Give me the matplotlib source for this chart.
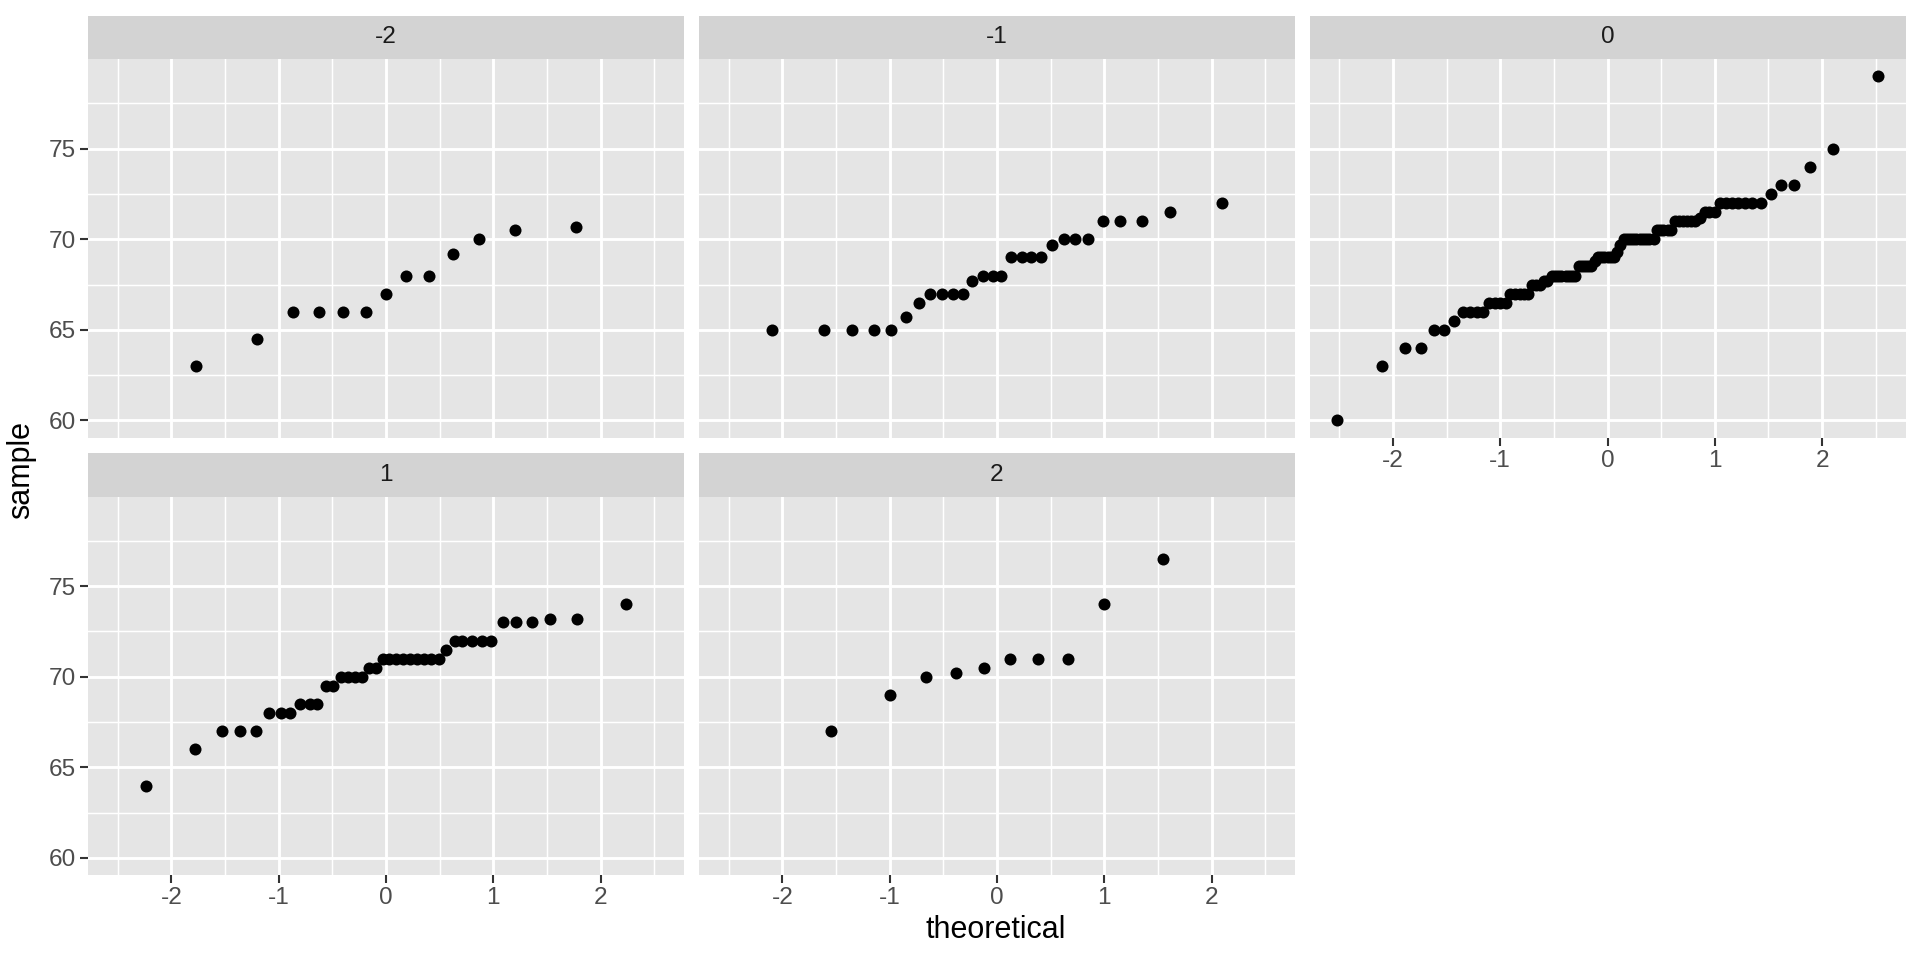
import matplotlib
matplotlib.use('Agg')
import matplotlib.pyplot as plt

plt.rcParams['font.family'] = ['Liberation Sans', 'DejaVu Sans']
plt.rcParams['axes.unicode_minus'] = False

# facet labels, theoretical quantiles and sample values
facet_labels = ['-2', '-1', '0', '1', '2']

theo_m2 = [-1.77, -1.20, -0.87, -0.62, -0.40, -0.19, 0.00, 0.19, 0.40, 0.62, 0.87, 1.20, 1.77]
samp_m2 = [63, 64.5, 66, 66, 66, 66, 67, 68, 68, 69.2, 70, 70.5, 70.7]

theo_m1 = [-2.10, -1.61, -1.35, -1.15, -0.99, -0.85, -0.73, -0.62, -0.51, -0.41, -0.32, -0.23, -0.13, -0.04,
           0.04, 0.13, 0.23, 0.32, 0.41, 0.51, 0.62, 0.73, 0.85, 0.99, 1.15, 1.35, 1.61, 2.10]
samp_m1 = [65, 65, 65, 65, 65, 65.7, 66.5, 67, 67, 67, 67, 67.7, 68, 68,
           68, 69, 69, 69, 69, 69.7, 70, 70, 70, 71, 71, 71, 71.5, 72]

theo_0 = [-2.52, -2.10, -1.89, -1.74, -1.62, -1.52, -1.43, -1.35, -1.28, -1.22,
          -1.16, -1.10, -1.05, -1.00, -0.95, -0.91, -0.86, -0.82, -0.78, -0.74,
          -0.70, -0.67, -0.63, -0.59, -0.56, -0.52, -0.49, -0.46, -0.43, -0.39,
          -0.36, -0.33, -0.30, -0.27, -0.24, -0.21, -0.18, -0.15, -0.12, -0.09,
          -0.06, -0.03, 0.00, 0.03, 0.06, 0.09, 0.12, 0.15, 0.18, 0.21,
          0.24, 0.27, 0.30, 0.33, 0.36, 0.39, 0.43, 0.46, 0.49, 0.52,
          0.56, 0.59, 0.63, 0.67, 0.70, 0.74, 0.78, 0.82, 0.86, 0.91,
          0.95, 1.00, 1.05, 1.10, 1.16, 1.22, 1.28, 1.35, 1.43, 1.52,
          1.62, 1.74, 1.89, 2.10, 2.52]
samp_0 = [60, 63, 64, 64, 65, 65, 65.5, 66, 66, 66,
          66, 66.5, 66.5, 66.5, 66.5, 67, 67, 67, 67, 67,
          67.5, 67.5, 67.5, 67.7, 67.7, 68, 68, 68, 68, 68,
          68, 68, 68, 68.5, 68.5, 68.5, 68.5, 68.5, 68.8, 69,
          69, 69, 69, 69, 69, 69.3, 69.7, 70, 70, 70,
          70, 70, 70, 70, 70, 70, 70, 70.5, 70.5, 70.5,
          70.5, 70.5, 71, 71, 71, 71, 71, 71, 71.2, 71.5,
          71.5, 71.5, 72, 72, 72, 72, 72, 72, 72, 72.5,
          73, 73, 74, 75, 79]

theo_p1 = [-2.24, -1.78, -1.53, -1.36, -1.21, -1.09, -0.98, -0.89, -0.80, -0.71,
           -0.64, -0.56, -0.49, -0.42, -0.35, -0.29, -0.22, -0.16, -0.09, -0.03,
           0.03, 0.09, 0.16, 0.22, 0.29, 0.35, 0.42, 0.49, 0.56, 0.64,
           0.71, 0.80, 0.89, 0.98, 1.09, 1.21, 1.36, 1.53, 1.78, 2.24]
samp_p1 = [64, 66, 67, 67, 67, 68, 68, 68, 68.5, 68.5,
           68.5, 69.5, 69.5, 70, 70, 70, 70, 70.5, 70.5, 71,
           71, 71, 71, 71, 71, 71, 71, 71, 71.5, 72,
           72, 72, 72, 72, 73, 73, 73, 73.2, 73.2, 74]

theo_p2 = [-1.55, -1.00, -0.66, -0.38, -0.12, 0.12, 0.38, 0.66, 1.00, 1.55]
samp_p2 = [67, 69, 70, 70.2, 70.5, 71, 71, 71, 74, 76.5]

x_major = [-2, -1, 0, 1, 2]
x_minor = [-2.5, -1.5, -0.5, 0.5, 1.5, 2.5]
y_major = [60, 65, 70, 75]
y_minor = [62.5, 67.5, 72.5, 77.5]

W, H = 1920, 960
fig = plt.figure(figsize=(W / 100, H / 100), dpi=100)


def frac(x0, y0, w, h):
    return [x0 / W, 1 - (y0 + h) / H, w / W, h / H]


col_left = [88, 699, 1309.5]
strip_top = [15.5, 453]
panel_w, strip_h, panel_h = 596, 43.5, 378.7

# (label, x, y, column, row, draw x axis)
panels = [
    (facet_labels[0], theo_m2, samp_m2, 0, 0, False),
    (facet_labels[1], theo_m1, samp_m1, 1, 0, False),
    (facet_labels[2], theo_0, samp_0, 2, 0, True),
    (facet_labels[3], theo_p1, samp_p1, 0, 1, True),
    (facet_labels[4], theo_p2, samp_p2, 1, 1, True),
]

for label, xs, ys, c, r, show_x in panels:
    top = strip_top[r]
    ax = fig.add_axes(frac(col_left[c], top + strip_h, panel_w, panel_h))
    ax.set_facecolor('#E5E5E5')
    ax.set_xlim(-2.777, 2.777)
    ax.set_ylim(59.05, 79.95)
    ax.set_xticks(x_major)
    ax.set_xticks(x_minor, minor=True)
    ax.set_yticks(y_major)
    ax.set_yticks(y_minor, minor=True)
    ax.grid(which='major', color='white', lw=2.1)
    ax.grid(which='minor', color='white', lw=1.05)
    ax.set_axisbelow(True)
    for s in ax.spines.values():
        s.set_visible(False)
    ax.tick_params(which='minor', length=0)
    ax.tick_params(which='major', length=5.5, width=1.5, color='#333333',
                   labelsize=17.6, labelcolor='#4D4D4D', pad=3)
    if not show_x:
        ax.tick_params(axis='x', which='both', bottom=False, labelbottom=False)
    if c != 0:
        ax.tick_params(axis='y', which='both', left=False, labelleft=False)
    ax.scatter(xs, ys, s=75, c='black', linewidths=0, zorder=3)

    sax = fig.add_axes(frac(col_left[c], top, panel_w, strip_h))
    sax.set_facecolor('#D3D3D3')
    sax.set_xticks([])
    sax.set_yticks([])
    for s in sax.spines.values():
        s.set_visible(False)
    sax.text(0.5, 0.5, label, ha='center', va='center', fontsize=17.6,
             color='#1A1A1A', transform=sax.transAxes)

fig.text(996 / W, 1 - 930 / H, 'theoretical', ha='center', va='center', fontsize=22)
fig.text(21 / W, 1 - 470 / H, 'sample', ha='center', va='center', fontsize=22, rotation=90)

fig.savefig('out.png', dpi=100, facecolor='white')
